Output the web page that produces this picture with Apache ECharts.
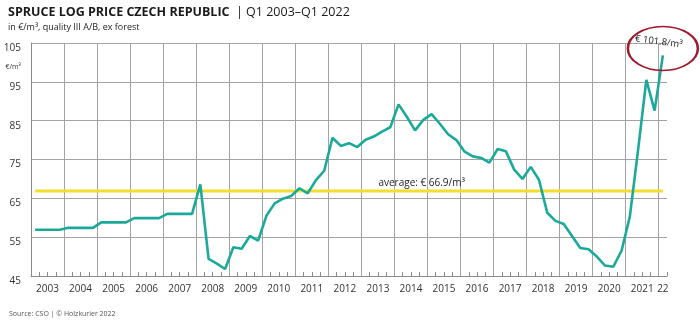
<!DOCTYPE html>
<html><head><meta charset="utf-8">
<script src="https://cdn.jsdelivr.net/npm/echarts@6/dist/echarts.min.js"></script>
<style>html,body{margin:0;padding:0;background:#fff}#c{width:700px;height:321px}</style>
</head><body><div id="c"></div>
<script>
// Year labels (one per year, last is Q1 2022 only)
const years = ['2003','2004','2005','2006','2007','2008','2009','2010','2011','2012','2013','2014','2015','2016','2017','2018','2019','2020','2021','22'];
// Quarterly spruce log price, Q1 2003 - Q1 2022 (EUR/m3)
const prices = [
  56.9, 56.9, 56.9, 56.9,   // 2003
  57.4, 57.4, 57.4, 57.4,   // 2004
  58.8, 58.8, 58.8, 58.8,   // 2005
  59.9, 59.9, 59.9, 59.9,   // 2006
  61.0, 61.0, 61.0, 61.0,   // 2007
  68.6, 49.4, 48.2, 46.8,   // 2008
  52.4, 52.0, 55.3, 54.1,   // 2009
  60.5, 63.7, 64.9, 65.6,   // 2010
  67.6, 66.3, 69.7, 72.1,   // 2011
  80.6, 78.5, 79.2, 78.2,   // 2012
  80.1, 80.9, 82.2, 83.3,   // 2013
  89.2, 86.0, 82.5, 85.2,   // 2014
  86.7, 84.2, 81.5, 80.0,   // 2015
  77.0, 75.8, 75.4, 74.2,   // 2016
  77.7, 77.1, 72.4, 70.0,   // 2017
  73.1, 69.8, 61.3, 59.2,   // 2018
  58.4, 55.3, 52.2, 51.9,   // 2019
  50.0, 47.7, 47.4, 51.5,   // 2020
  60.3, 77.5, 95.5, 87.6,   // 2021
  101.8                     // Q1 2022
];
const average = 66.9;
const averageLabel = 'average: € 66.9/m³';
const lastLabel = '€ 101.8/m³';
const yMin = 45, yMax = 105, yStep = 10;

const chart = echarts.init(document.getElementById('c'), null, {renderer: 'canvas'});
const font = '"Open Sans", "Noto Sans", sans-serif';
const n = prices.length;
const priceData = prices.map((v, i) => [i + 0.5, v]);
const avgData = [[0.5, average], [n - 0.5, average]];
const avgLabelPos = 47.3;
const labelValues = years.map((y, k) => (k < years.length - 1 ? 4 * k + 2 : n - 0.5));
const tickValues = Array.from({length: n + 1}, (_, i) => i);
const yearStarts = years.slice(1).map((y, k) => ({xAxis: 4 * (k + 1)}));
const grid = '#a3a3a3';

chart.setOption({
  animation: false,
  textStyle: {fontFamily: font},
  title: [{
    left: 3, top: 1,
    text: '{b|SPRUCE LOG PRICE CZECH REPUBLIC}{n|  | Q1 2003–Q1 2022}',
    textStyle: {rich: {
      b: {fontFamily: font, fontWeight: 'bold', fontSize: 12.5, color: '#1a1a1a'},
      n: {fontFamily: font, fontWeight: 'normal', fontSize: 12.5, color: '#1a1a1a'}
    }},
    subtext: 'in €/m³, quality III A/B, ex forest',
    subtextStyle: {fontFamily: font, fontSize: 9, color: '#222'},
    itemGap: 4
  }, {
    left: 4, top: 305,
    text: 'Source: CSO | © Holzkurier 2022',
    textStyle: {fontFamily: font, fontSize: 7, fontWeight: 'normal', color: '#555'}
  }],
  grid: {left: 31, right: 33, top: 43, bottom: 45, containLabel: false},
  xAxis: {
    type: 'value', min: 0, max: n, interval: 4,
    axisLine: {show: true, lineStyle: {color: '#8a8a8a', width: 1}},
    axisTick: {show: true, inside: true, length: 4, customValues: tickValues, lineStyle: {color: '#8a8a8a'}},
    axisLabel: {customValues: labelValues, formatter: v => years[Math.min(years.length - 1, Math.floor(v / 4))],
      color: '#333', fontSize: 10, margin: 8, fontFamily: font},
    splitLine: {show: false}
  },
  yAxis: {
    type: 'value', min: yMin, max: yMax, interval: yStep,
    axisLine: {show: true, lineStyle: {color: '#8a8a8a', width: 1}},
    axisTick: {show: false},
    axisLabel: {color: '#333', fontSize: 10, margin: 10, verticalAlign: 'top', fontFamily: font},
    splitLine: {show: true, lineStyle: {color: grid, width: 1}},
    name: '€/m³', nameLocation: 'end', nameGap: -27,
    nameTextStyle: {fontSize: 7, color: '#333', align: 'right', padding: [0, 10, 0, 0], fontFamily: font}
  },
  series: [{
    type: 'line', name: 'average', data: avgData, symbol: 'none', z: 2, silent: true,
    lineStyle: {color: '#f1de2e', width: 3},
    markLine: {
      silent: true, symbol: 'none', z: 1,
      lineStyle: {color: grid, width: 1, type: 'solid'},
      label: {show: false},
      data: yearStarts
    },
    markPoint: {
      silent: true, symbol: 'circle', symbolSize: 0,
      label: {show: true, position: 'top', distance: 3, formatter: averageLabel, color: '#222', fontSize: 10, fontFamily: font},
      data: [{coord: [avgLabelPos, average]}]
    }
  }, {
    type: 'line', name: 'price', data: priceData, symbol: 'none', z: 3, silent: true,
    lineStyle: {color: '#1ba99a', width: 2.6},
    markPoint: {
      symbol: 'circle', symbolSize: [70, 44], symbolOffset: [0, -7], silent: true,
      itemStyle: {color: 'rgba(0,0,0,0)', borderColor: '#9c1c2e', borderWidth: 2},
      label: {show: true, position: 'inside', formatter: lastLabel, color: '#222', fontSize: 9.5, rotate: -8, offset: [-5, -6], fontFamily: font},
      data: [{coord: [n - 0.5, prices[n - 1]]}]
    }
  }]
});
</script></body></html>
